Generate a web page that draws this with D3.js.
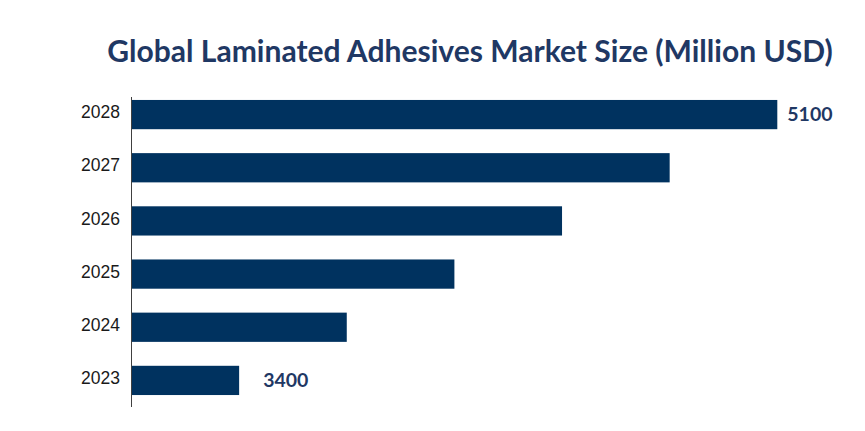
<!DOCTYPE html>
<html><head><meta charset="utf-8">
<script src="https://cdn.jsdelivr.net/npm/d3@7"></script>
<style>body{margin:0;background:#fff}</style>
</head><body>
<svg id="c" width="865" height="431"></svg>
<script>
const years = ["2028","2027","2026","2025","2024","2023"];
const values = [5100, 4760, 4420, 4080, 3740, 3400];
const labelYears = ["2028","2023"];
const titleText = "Global Laminated Adhesives Market Size (Million USD)";

const svg = d3.select("#c");
const x = d3.scaleLinear().domain([3060, 5100]).range([131.5, 777.3]);
const y = d3.scaleBand().domain(years).range([88, 407]).paddingInner(0.45).paddingOuter(0.225);

const title = svg.append("text").attr("x", 470).attr("y", 62)
  .attr("text-anchor", "middle")
  .attr("font-family", "Lato, 'Open Sans', sans-serif").attr("font-weight", "bold")
  .attr("font-size", 30).attr("fill", "#1F3864").text(titleText);
const tw = title.node().getComputedTextLength();
title.attr("font-size", 30 * 726 / tw);

svg.selectAll("rect.bar").data(years).enter().append("rect")
  .attr("class", "bar")
  .attr("x", x(3060)).attr("y", d => y(d))
  .attr("width", (d, i) => x(values[i]) - x(3060))
  .attr("height", y.bandwidth())
  .attr("fill", "#00325F");

const ax = svg.append("g").attr("transform", `translate(${x(3060)},0)`)
  .call(d3.axisLeft(y).tickSize(0).tickPadding(11.5));
ax.select(".domain").attr("stroke", "#404040").attr("d", "M0,97V407");
ax.selectAll("text").attr("font-family", "'Liberation Sans', Arial, sans-serif")
  .attr("font-size", 17.5).attr("fill", "#1a1a1a").attr("y", -2);

const offs = {"2028": 10, "2023": 24};
svg.selectAll("text.val").data(labelYears).enter().append("text")
  .attr("class", "val")
  .attr("x", d => x(values[years.indexOf(d)]) + offs[d])
  .attr("y", d => y(d) + y.bandwidth() / 2 + 6.5)
  .attr("font-family", "Lato, 'Open Sans', sans-serif").attr("font-weight", "bold")
  .attr("font-size", 19.5).attr("fill", "#1F3864")
  .text(d => values[years.indexOf(d)]);
</script>
</body></html>
